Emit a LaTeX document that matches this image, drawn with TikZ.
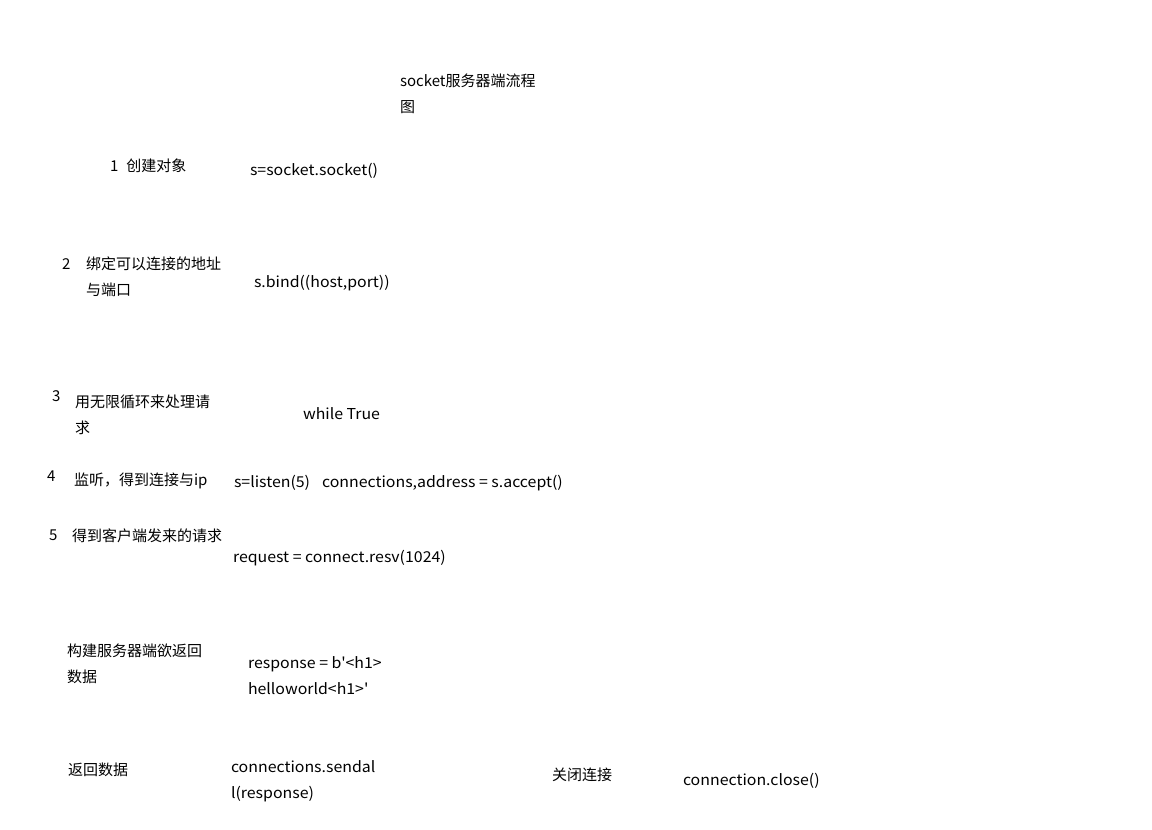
\documentclass[tikz,border=0pt]{standalone}
\usepackage{fontspec}
\setmainfont{Noto Sans CJK SC}
\newfontfamily\codefont{Noto Sans CJK SC}[FakeStretch=1.06]
\begin{document}
\begin{tikzpicture}[x=1pt,y=-1pt,
  txt/.style={anchor=base west,inner sep=0pt,outer sep=0pt,align=left,
    font=\fontsize{15}{26}\selectfont},
  code/.style={txt,font=\fontsize{15}{26}\selectfont\codefont}]
\useasboundingbox[fill=white] (0,0) rectangle (1152,830);
\node[txt] (title) at (400,112) {socket服务器端流程\\图};
\node[txt] (n1) at (110,171) {1\hspace{8pt}创建对象};
\node[code] (c1) at (250,175) {s=socket.socket()};
\node[txt] (n2) at (62,269) {2};
\node[txt] (l2) at (86,295) {绑定可以连接的地址\\与端口};
\node[code] (c2) at (254,287) {s.bind((host,port))};
\node[txt] (n3) at (52,401) {3};
\node[txt] (l3) at (75,433) {用无限循环来处理请\\求};
\node[code] (c3) at (303,419) {while True};
\node[txt] (n4) at (47,481) {4};
\node[txt] (l4) at (74,485) {监听，得到连接与ip};
\node[code] (c4) at (234,487) {s=listen(5)\hspace{12pt}connections,address = s.accept()};
\node[txt] (n5) at (49,540) {5};
\node[txt] (l5) at (72,541) {得到客户端发来的请求};
\node[code] (c5) at (233,562) {request = connect.resv(1024)};
\node[txt] (l6) at (67,682) {构建服务器端欲返回\\数据};
\node[code] (c6) at (248,694) {response = b\textquotesingle<h1>\\helloworld<h1>\textquotesingle};
\node[txt] (l7) at (68,775) {返回数据};
\node[code] (c7) at (231,798) {connections.sendal\\l(response)};
\node[txt] (l8) at (552,780) {关闭连接};
\node[code] (c8) at (683,785) {connection.close()};
\end{tikzpicture}
\end{document}
